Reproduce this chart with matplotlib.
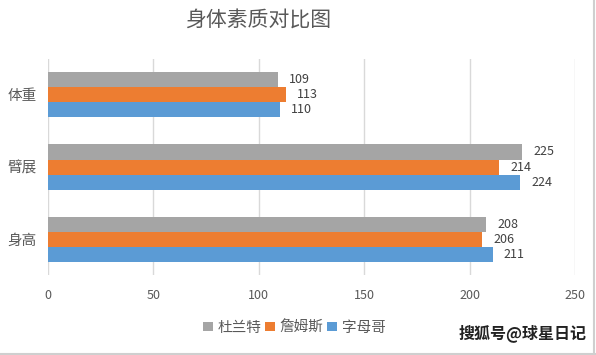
import matplotlib.pyplot as plt
import numpy as np

plt.rcParams['font.family'] = ['Noto Sans CJK SC', 'DejaVu Sans']

categories = ['身高', '臂展', '体重']
players = ['字母哥', '詹姆斯', '杜兰特']
values = {
    '字母哥': [211, 224, 110],
    '詹姆斯': [206, 214, 113],
    '杜兰特': [208, 225, 109],
}
colors = {'字母哥': '#5B9BD5', '詹姆斯': '#ED7D31', '杜兰特': '#A5A5A5'}
xticks = [0, 50, 100, 150, 200, 250]


def plot_it():
    fig = plt.figure(figsize=(5.96, 3.55), dpi=100)
    ax = fig.add_axes([0.0805, 0.224, 0.8843, 0.611])

    y = np.arange(len(categories))
    h = 0.208
    for i, p in enumerate(players):
        bars = ax.barh(y + (i - 1) * h, values[p], height=h, color=colors[p],
                       label=p, zorder=2)
        ax.bar_label(bars, padding=8, fontsize=9, color='#404040')

    ax.set_xlim(0, 250)
    ax.set_ylim(-0.5, 2.5)
    ax.set_xticks(xticks)
    ax.set_yticks(y)
    ax.set_yticklabels(categories, fontsize=10.5, color='#595959')
    ax.tick_params(axis='x', labelsize=9, labelcolor='#595959', length=0, pad=10)
    ax.tick_params(axis='y', length=0, pad=8)
    ax.grid(axis='x', color='#D9D9D9', linewidth=1, zorder=0)
    for s in ax.spines.values():
        s.set_visible(False)

    fig.text(0.433, 0.943, '身体素质对比图', ha='center', va='center',
             fontsize=15, color='#595959', fontweight='light')

    handles, labels = ax.get_legend_handles_labels()
    fig.legend(handles[::-1], labels[::-1], loc='center', bbox_to_anchor=(0.494, 0.077),
               ncol=3, frameon=False, fontsize=10.5, handlelength=0.65, handleheight=0.65,
               handletextpad=0.35, columnspacing=0.25, labelcolor='#595959')

    fig.text(0.985, 0.062, '搜狐号@球星日记', ha='right', va='center',
             fontsize=11.5, color='#222222', fontweight='bold')

    # thin frame on the right and bottom edges
    fig.add_artist(plt.Line2D([0, 1], [0.003, 0.003], color='#CFCFCF', lw=1.5))
    fig.add_artist(plt.Line2D([0.997, 0.997], [0, 1], color='#CFCFCF', lw=1.5))

    fig.savefig('out.png', dpi=100)


plot_it()
